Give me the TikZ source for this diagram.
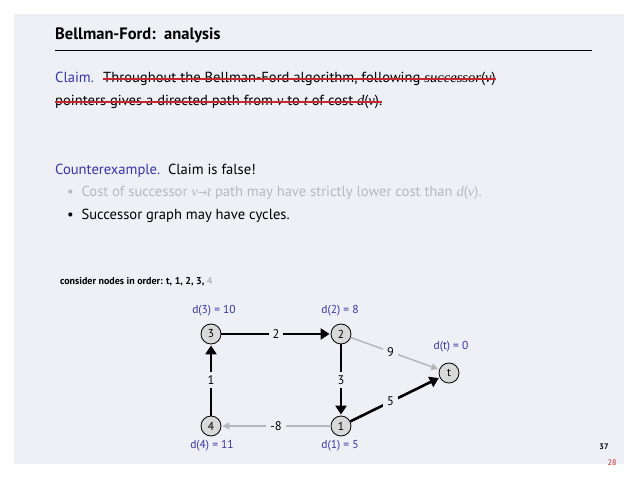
\documentclass[tikz,border=0pt]{standalone}
\usepackage{fontspec}
\setmainfont{PT Sans}
\newfontfamily\serifit{Liberation Serif}
\newfontfamily\djv{DejaVu Sans}
\usetikzlibrary{arrows.meta}
\definecolor{bg}{HTML}{EFF0F6}
\definecolor{tblue}{HTML}{3535A8}
\definecolor{lgray}{HTML}{B8B8BC}
\definecolor{sred}{HTML}{C8282D}
\tikzset{
 vtx/.style={circle,draw=black,fill=gray!30,line width=0.8pt,minimum size=20pt,inner sep=0pt,font=\fontsize{11.5}{12}\selectfont},
 heavy/.style={line width=2.6pt,-{Triangle[length=9pt,width=11pt]},shorten >=1pt},
 light/.style={line width=1.5pt,lgray,-{Triangle[length=7pt,width=7pt]},shorten >=1pt},
 wt/.style={fill=bg,inner sep=4pt,font=\fontsize{12.5}{13}\selectfont,text=black},
 dl/.style={text=tblue,font=\fontsize{11.5}{12}\selectfont},
 body/.style={anchor=base west,font=\fontsize{14.6}{17}\selectfont,inner sep=0pt}
}
\newcommand{\vit}[1]{{\serifit\itshape #1}}
\begin{document}
\begin{tikzpicture}[x=1pt,y=-1pt]
\fill[white] (0,0) rectangle (638,478);
\fill[bg] (14,14) rectangle (624,464);
\useasboundingbox (0,0) rectangle (638,478);
\node[body,font=\fontsize{16.5}{18}\selectfont\bfseries] (title) at (55,40) {Bellman-Ford:\ \ analysis};
\draw[line width=0.6pt] (55,50) -- (592,50);
\node[body,text=tblue] (claimlbl) at (55,83) {Claim.};
\node[body] (claim) at (103,83) {Throughout the Bellman-Ford algorithm, following \vit{successor}(\vit{v})};
\node[body] (claim2) at (55,106) {pointers gives a directed path from \vit{v} to \vit{t} of cost \vit{d}(\vit{v}).};
\draw[sred,line width=1.1pt] ([yshift=4pt]claim.base west) -- ([yshift=4pt]claim.base east);
\draw[sred,line width=1.1pt] ([yshift=4pt]claim2.base west) -- ([yshift=4pt]claim2.base east);
\node[body] (ce) at (55,175) {\textcolor{tblue}{Counterexample.}\ \ Claim is false!};
\node[body,text=lgray] (b1) at (67,197) {\textbullet\ \ Cost of successor \vit{v}{\djv\fontsize{11}{12}\selectfont→}\vit{t} path may have strictly lower cost than \vit{d}(\vit{v}).};
\node[body] (b2) at (67,220) {\textbullet\ \ Successor graph may have cycles.};
\node[anchor=base west,inner sep=0pt,font=\fontsize{10}{11}\selectfont\bfseries] (cons) at (60,285) {consider nodes in order: t, 1, 2, 3, \textcolor{lgray}{4}};
\node[vtx] (n3) at (211,334) {3};
\node[vtx] (n2) at (341,334) {2};
\node[vtx] (nt) at (449,373) {t};
\node[vtx] (n4) at (211,426) {4};
\node[vtx] (n1) at (341,426) {1};
\draw[heavy] (n3) -- node[wt] (w2) {2} (n2);
\draw[light] (n2) -- node[wt,pos=0.45] (w9) {9} (nt);
\draw[heavy] (n2) -- node[wt] (w3) {3} (n1);
\draw[heavy] (n1) -- node[wt,pos=0.45] (w5) {5} (nt);
\draw[light] (n1) -- node[wt] (w8) {-8} (n4);
\draw[heavy] (n4) -- node[wt] (w1) {1} (n3);
\node[dl] (d3) at (214,311) {d(3) = 10};
\node[dl] (d2) at (340,311) {d(2) = 8};
\node[dl] (dt) at (451,347) {d(t) = 0};
\node[dl] (d4) at (212,446) {d(4) = 11};
\node[dl] (d1) at (340,446) {d(1) = 5};
\node[font=\fontsize{8}{9}\selectfont\bfseries] (p37) at (604,447) {37};
\node[font=\fontsize{8}{9}\selectfont,text=sred] (p28) at (612,463) {28};
\end{tikzpicture}
\end{document}
